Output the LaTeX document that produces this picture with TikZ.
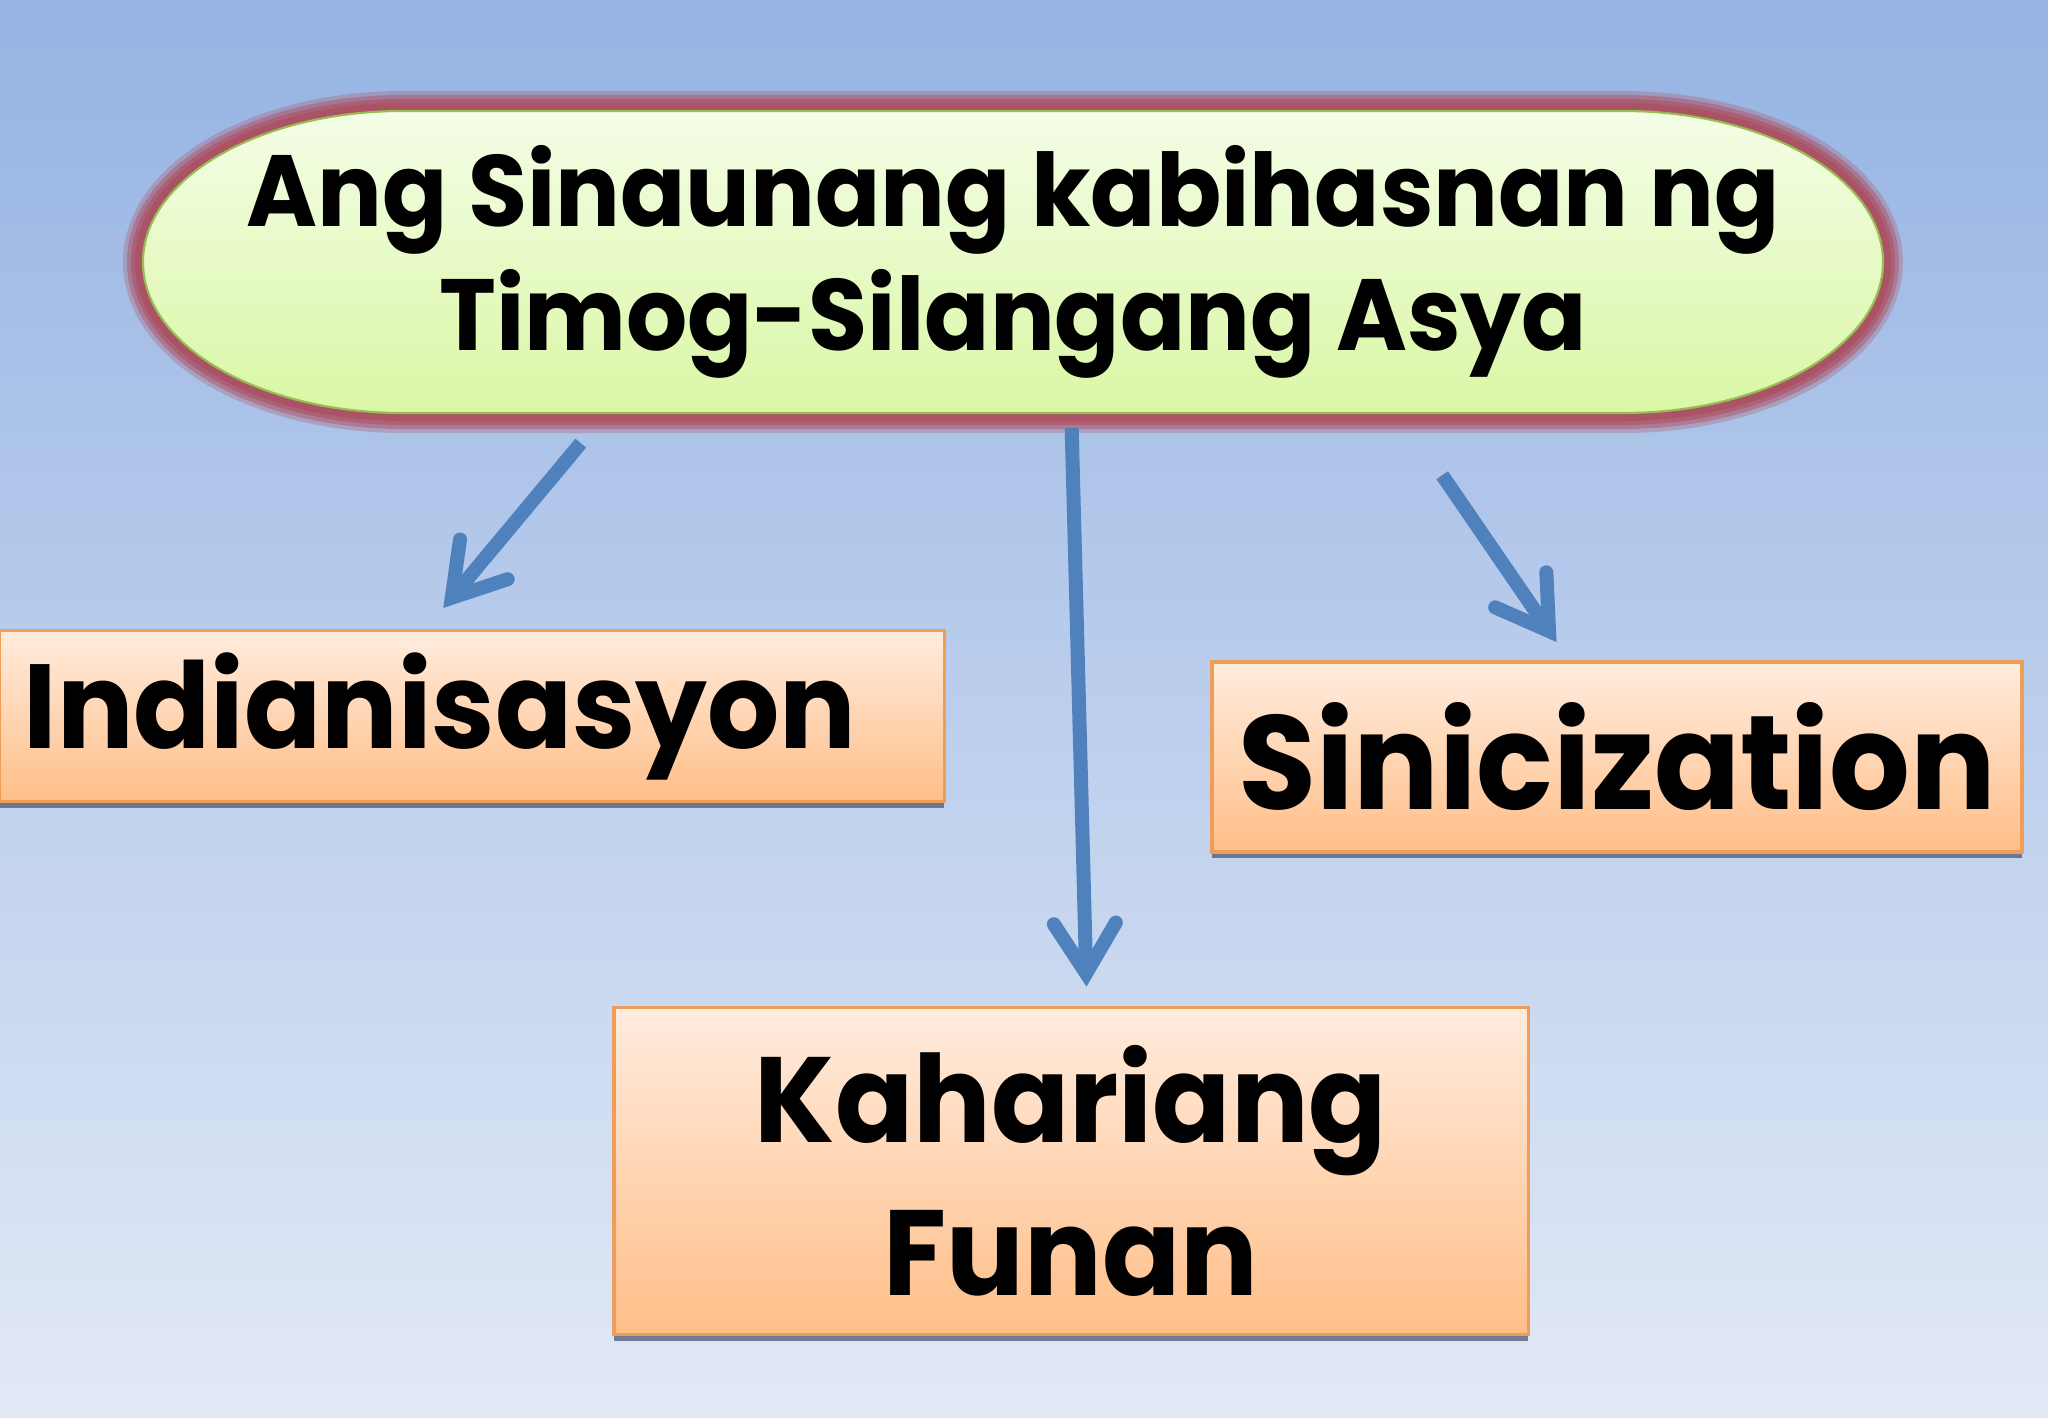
\documentclass[tikz,border=0pt]{standalone}
\usepackage{fontspec}
\setmainfont{Poppins}[FakeStretch=0.95]
\usetikzlibrary{shapes.geometric,arrows.meta,shadows}

\definecolor{skytop}{RGB}{149,179,227}
\definecolor{skybot}{RGB}{226,233,246}
\definecolor{glowred}{RGB}{172,80,98}
\definecolor{limetop}{RGB}{244,253,230}
\definecolor{limebot}{RGB}{218,247,165}
\definecolor{limeline}{RGB}{150,190,80}
\definecolor{peachtop}{RGB}{255,236,222}
\definecolor{peachbot}{RGB}{255,190,136}
\definecolor{peachline}{RGB}{238,158,88}
\definecolor{arrowblue}{RGB}{79,129,189}

\newcommand{\pxunit}{0.01cm}

\tikzset{
  topic/.style={ellipse, minimum width=17.42cm, minimum height=3.03cm, inner sep=0pt},
  topictext/.style={align=center, inner sep=0pt, font=\fontsize{28.8}{35.3}\selectfont\bfseries},
  branch/.style={rectangle, top color=peachtop, bottom color=peachbot, draw=peachline,
    line width=1pt, inner sep=0pt,
    drop shadow={shadow xshift=0pt, shadow yshift=-0.06cm, fill=black!45!skytop, opacity=0.8}},
  arr/.style={draw=arrowblue, line width=0.14cm,
    -{Straight Barb[length=0.5cm, width=0.62cm, line width=0.14cm, line cap=round, line join=miter]}},
}

\begin{document}
\begin{tikzpicture}[x=\pxunit,y=-\pxunit]
\useasboundingbox (0,0) rectangle (2048,1418);

%background
\shade[top color=skytop, bottom color=skybot] (0,0) rectangle (2048,1418);

%glow round the oval
\foreach \w/\o in {0.40/0.3,0.32/0.45,0.24/0.6,0.16/0.8}{
	\draw[glowred, line width=\w cm, opacity=\o] (403,111) -- (1623,111)
	  arc[start angle=-90, end angle=90, x radius=260, y radius=151] -- (403,413)
	  arc[start angle=90, end angle=270, x radius=260, y radius=151] -- cycle;
}

%the oval and its text
\path[top color=limetop, bottom color=limebot, draw=limeline, line width=0.6pt] (403,111) -- (1623,111)
  arc[start angle=-90, end angle=90, x radius=260, y radius=151] -- (403,413)
  arc[start angle=90, end angle=270, x radius=260, y radius=151] -- cycle;
\node[topic] (top) at (1013,262) {};
\node[topictext] (toptext) at (top.center) {Ang Sinaunang kabihasnan ng\\Timog-Silangang Asya};

%the boxes
\node[branch, minimum width=9.44cm, minimum height=1.71cm, text width=8.96cm, align=left,
  font=\fontsize{34}{40}\selectfont\bfseries] (indian) at (472,716) {Indianisasyon};
\node[branch, minimum width=8.10cm, minimum height=1.90cm,
  font=\fontsize{38}{40}\selectfont\bfseries] (sinic) at (1617,757) {Sinicization};
\node[branch, minimum width=9.14cm, minimum height=3.27cm, align=center,
  font=\fontsize{34.5}{43.5}\selectfont\bfseries] (funan) at (1071,1171) {Kahariang\\Funan};

%arrows
\draw[arr, shorten <=0.59cm, shorten >=0.27cm] (top.199) -- ([xshift=-0.46cm]indian.north);
\draw[arr, shorten <=0.14cm, shorten >=0.19cm] (top.291) -- ([xshift=0.16cm]funan.north);
\draw[arr, shorten <=0.92cm, shorten >=0.22cm] (top.340) -- ([xshift=-0.48cm]sinic.north);
\end{tikzpicture}
\end{document}
